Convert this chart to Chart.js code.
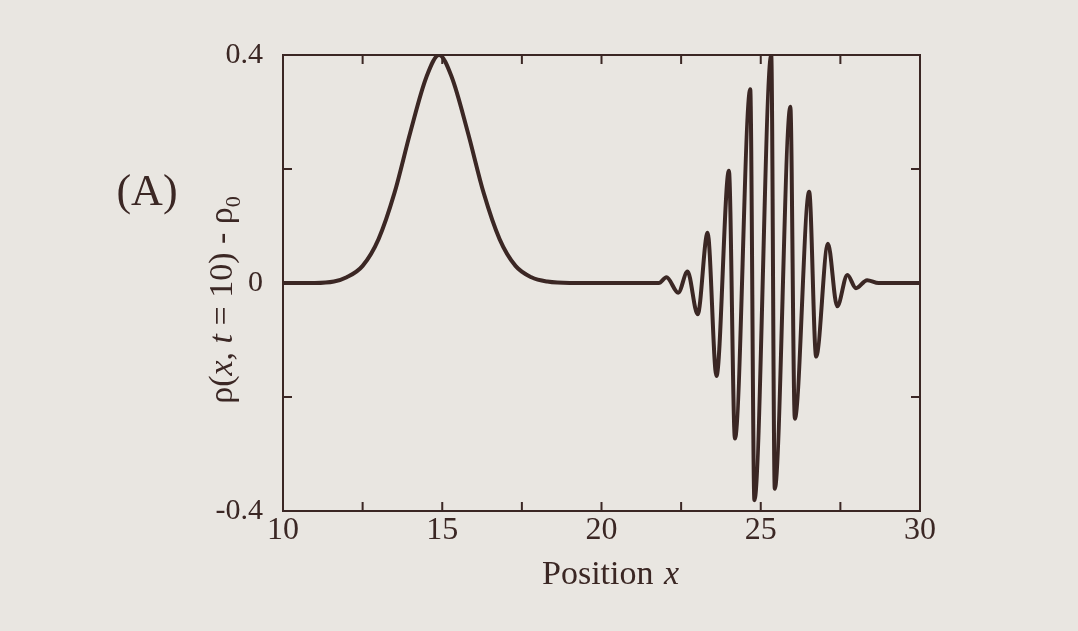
<!DOCTYPE html>
<html><head><meta charset="utf-8">
<script src="https://cdn.jsdelivr.net/npm/chart.js@4"></script>
<style>html,body{margin:0;padding:0;background:#e9e6e1;}#w{width:1078px;height:631px;}</style>
</head><body><div id="w"><canvas id="c" width="1078" height="631"></canvas></div>
<script>
const xs = [10,11,11.6,12.0,12.5,13.0,13.5,14.0,14.5,14.9,15.3,15.8,16.3,16.8,17.3,17.8,18.3,19,21.8,
  22.04,22.41,22.70,23.02,23.33,23.61,24.0,24.19,24.67,24.80,25.33,25.44,25.93,26.07,26.52,26.74,27.11,27.40,27.72,27.99,28.34,28.7,30];
const ys = [0,0,0.0025,0.010,0.030,0.077,0.158,0.265,0.361,0.40,0.361,0.265,0.158,0.077,0.030,0.010,0.0025,0,0,
  0.01,-0.017,0.02,-0.055,0.088,-0.163,0.197,-0.273,0.34,-0.381,0.40,-0.361,0.309,-0.238,0.16,-0.129,0.069,-0.041,0.014,-0.009,0.005,0,0];
const xTickLabels = {10:'10',15:'15',20:'20',25:'25',30:'30'};
const yTickLabels = {'0.4':'0.4','0':'0','-0.4':'-0.4'};
const ink = '#3b2724';
const font = "'Liberation Serif', 'DejaVu Serif', serif";

const deco = {
  id:'deco',
  afterDraw(ch){
    const c=ch.ctx, a=ch.chartArea, sx=ch.scales.x, sy=ch.scales.y;
    c.save(); c.strokeStyle=ink; c.lineWidth=2;
    for(let v=10; v<=30; v+=2.5){const p=sx.getPixelForValue(v);
      c.beginPath(); c.moveTo(p,a.bottom); c.lineTo(p,a.bottom-9); c.moveTo(p,a.top); c.lineTo(p,a.top+9); c.stroke();}
    for(let v=-0.4; v<=0.401; v+=0.2){const p=sy.getPixelForValue(v);
      c.beginPath(); c.moveTo(a.left,p); c.lineTo(a.left+9,p); c.moveTo(a.right,p); c.lineTo(a.right-9,p); c.stroke();}
    c.strokeRect(a.left,a.top,a.right-a.left,a.bottom-a.top);
    c.fillStyle=ink;
    c.font="34px "+font; c.textBaseline='alphabetic'; c.textAlign='right';
    c.fillText('Position ',662,584);
    c.font="italic 34px "+font; c.textAlign='left'; c.fillText('x',664,584);
    c.font="44px "+font; c.textAlign='center'; c.fillText('(A)',147,205);
    c.textAlign='left';
    c.translate(220,300); c.rotate(-Math.PI/2);
    const parts=[['ρ(',''],['x','italic '],[', ',''],['t','italic '],[' = 10) - ρ','']];
    let tot=0; parts.forEach(p=>{c.font=p[1]+"34px "+font; tot+=c.measureText(p[0]).width;});
    c.font="22px "+font; tot+=c.measureText('0').width;
    let x0=-tot/2;
    parts.forEach(p=>{c.font=p[1]+"34px "+font; c.fillText(p[0],x0,12); x0+=c.measureText(p[0]).width;});
    c.font="22px "+font; c.fillText('0',x0,20);
    c.restore();
  }
};

new Chart(document.getElementById('c'),{
  type:'line',
  data:{datasets:[{data:xs.map((x,i)=>({x:x,y:ys[i]})),borderColor:ink,borderWidth:4,pointRadius:0,
    cubicInterpolationMode:'monotone',fill:false}]},
  options:{responsive:false,animation:false,
    layout:{padding:{top:55,right:158,left:0,bottom:0}},
    plugins:{legend:{display:false},tooltip:{enabled:false}},
    scales:{
      x:{type:'linear',min:10,max:30,grid:{display:false},border:{display:false},
        afterFit(s){s.height=120;},
        afterBuildTicks(s){s.ticks=[10,15,20,25,30].map(v=>({value:v}));},
        ticks:{color:ink,font:{family:font,size:32},padding:-8,maxRotation:0,callback:v=>xTickLabels[v]||''}},
      y:{type:'linear',min:-0.4,max:0.4,grid:{display:false},border:{display:false},
        afterFit(s){s.width=283;},
        afterBuildTicks(s){s.ticks=[-0.4,0,0.4].map(v=>({value:v}));},
        ticks:{color:ink,font:{family:font,size:30},padding:12,callback:v=>yTickLabels[String(Math.round(v*10)/10)]||''}}
    }},
  plugins:[deco]
});
</script></body></html>
